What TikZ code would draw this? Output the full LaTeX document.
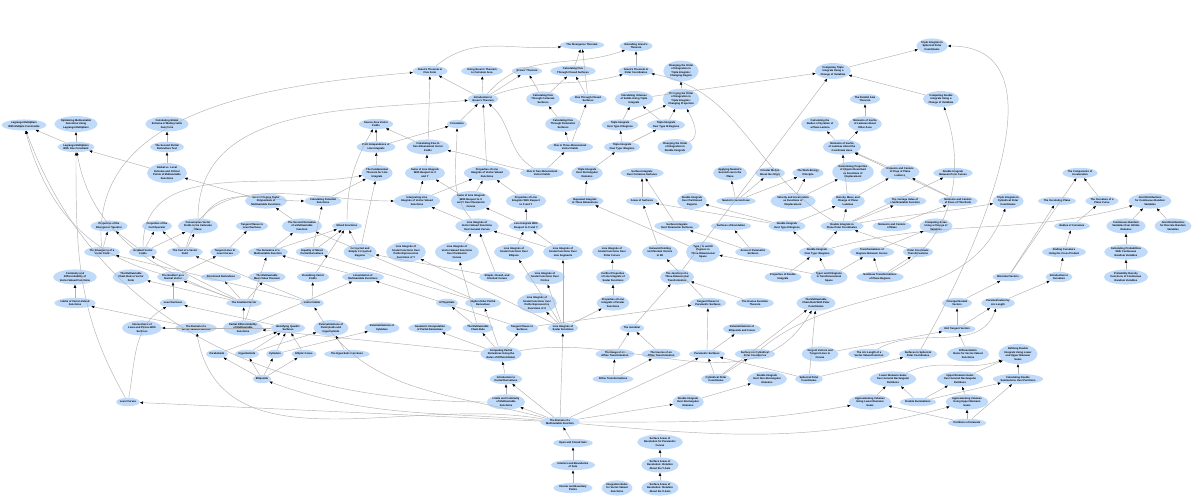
\documentclass[tikz,border=0pt]{standalone}
\usepackage{fontspec}
\setmainfont{Liberation Sans}
\usetikzlibrary{arrows.meta,shapes.geometric}
\definecolor{topicblue}{RGB}{192,218,250}
\newcommand{\topicfont}{\fontsize{2.6}{3.4}\selectfont\bfseries}

\begin{document}
\begin{tikzpicture}[x=1pt,y=-1pt,
  topic/.style={ellipse,fill=topicblue,inner xsep=0.3pt,inner ysep=1pt,minimum height=8.5pt,align=center,font=\topicfont},
  link/.style={draw=black!30,line width=0.45pt,-{Triangle[length=3pt,width=2.4pt,color=black]}}]
\useasboundingbox (0,0) rectangle (1200,502);
\node[topic] (tspherical) at (932,46) {Triple Integrals in\\Spherical Polar\\Coordinates};
\node[topic] (ctriple) at (833,71) {Computing Triple\\Integrals Using a\\Change of Variables};
\node[topic] (divthm) at (582,45) {The Divergence Theorem};
\node[topic] (extgreen) at (636,46) {Extending Green's\\Theorem};
\node[topic] (greenflux) at (430,71) {Green's Theorem in\\Flux Form};
\node[topic] (greenarea) at (482,71) {Using Green's Theorem\\to Calculate Area};
\node[topic] (stokes) at (527,71) {Stokes' Theorem};
\node[topic] (fluxclosedcalc) at (573,71) {Calculating Flux\\Through Closed Surfaces};
\node[topic] (greenpolar) at (636,71) {Green's Theorem in\\Polar Coordinates};
\node[topic] (changeregion) at (681,71) {Changing the Order\\of Integration in\\Triple Integrals:\\Changing Region};
\node[topic] (introgreen) at (483,99) {Introduction to\\Green's Theorem};
\node[topic] (fluxcart) at (543,99) {Calculating Flux\\Through Cartesian\\Surfaces};
\node[topic] (fluxclosed) at (588,99) {Flux Through Closed\\Surfaces};
\node[topic] (volumes) at (634,99) {Calculating Volumes\\of Solids Using Triple\\Integrals};
\node[topic] (changeproj) at (681,99) {Changing the Order\\of Integration in\\Triple Integrals:\\Changing Projection};
\node[topic] (cdouble) at (941,99) {Computing Double\\Integrals Using a\\Change of Variables};
\node[topic] (parallelaxis) at (865,99) {The Parallel Axis\\Theorem};
\node[topic] (fluxparam) at (563,124) {Calculating Flux\\Through Parametric\\Surfaces};
\node[topic] (tripletwo) at (620,125) {Triple Integrals\\Over Type II Regions};
\node[topic] (triplethree) at (666,125) {Triple Integrals\\Over Type III Regions};
\node[topic] (gyration) at (820,124) {Calculating the\\Radius of Gyration of\\a Plane Lamina};
\node[topic] (inertiaother) at (865,124) {Moments of Inertia\\of Laminas About\\Other Axes};
\node[topic] (sourcefree) at (376,124) {Source-Free Vector\\Fields};
\node[topic] (circulation) at (457,124) {Circulation};
\node[topic] (pathindep) at (376,147) {Path Independence of\\Line Integrals};
\node[topic] (flux2dcalc) at (428,147) {Calculating Flux in\\Two-Dimensional Vector\\Fields};
\node[topic] (flux3d) at (570,147) {Flux in Three-Dimensional\\Vector Fields};
\node[topic] (tripleone) at (622,147) {Triple Integrals\\Over Type I Regions};
\node[topic] (changedouble) at (675,147) {Changing the Order\\of Integration in\\Double Integrals};
\node[topic] (inertiaaxes) at (842,147) {Moments of Inertia\\of Laminas About the\\Coordinate Axes};
\node[topic] (lagmulti) at (24,125) {Lagrange Multipliers\\With Multiple Constraints};
\node[topic] (optimizing) at (76,124) {Optimizing Multivariable\\Functions Using\\Lagrange Multipliers};
\node[topic] (globalextrema) at (167,124) {Calculating Global\\Extrema of Multivariable\\Functions};
\node[topic] (lagone) at (76,147) {Lagrange Multipliers\\With One Constraint};
\node[topic] (secondtest) at (167,147) {The Second Partial\\Derivatives Test};
\node[topic] (globallocal) at (167,173) {Global vs. Local\\Extrema and Critical\\Points of Multivariable\\Functions};
\node[topic] (taylor) at (266,201) {Second-Degree Taylor\\Polynomials of\\Multivariable Functions};
\node[topic] (ftli) at (377,173) {The Fundamental\\Theorem for Line\\Integrals};
\node[topic] (sumsli) at (425,173) {Sums of Line Integrals\\With Respect to X\\and Y};
\node[topic] (propvv) at (487,173) {Properties of Line\\Integrals of Vector-Valued\\Functions};
\node[topic] (flux2d) at (542,173) {Flux in Two-Dimensional\\Vector Fields};
\node[topic] (triplerect) at (587,173) {Triple Integrals\\Over Rectangular\\Domains};
\node[topic] (surfcart) at (642,173) {Surface Integrals\\Over Cartesian Surfaces};
\node[topic] (newtonplane) at (730,173) {Applying Newton's\\Second Law in the\\Plane};
\node[topic] (circular) at (770,173) {Circular Motion\\About the Origin};
\node[topic] (workenergy) at (808,173) {The Work-Energy\\Principle};
\node[topic] (displacement) at (853,172) {Determining Properties\\of Objects Described\\as Functions of\\Displacement};
\node[topic] (laminas) at (900,172) {Moments and Centers\\of Mass of Plane\\Laminas};
\node[topic] (polarcurves) at (953,173) {Double Integrals\\Between Polar Curves};
\node[topic] (acceleration) at (1080,173) {The Components of\\Acceleration};
\node[topic] (potential) at (323,201) {Calculating Potential\\Functions};
\node[topic] (interpreting) at (417,201) {Interpreting Line\\Integrals of Vector-Valued\\Functions};
\node[topic] (sumsparam) at (471,201) {Sums of Line Integrals\\With Respect to X\\and Y Over Parametric\\Curves};
\node[topic] (propxy) at (526,201) {Properties of Line\\Integrals With Respect\\to X and Y};
\node[topic] (repeated) at (585,201) {Repeated Integrals\\in Three Dimensions};
\node[topic] (areassurf) at (642,201) {Areas of Surfaces};
\node[topic] (partitioned) at (692,201) {Double Integrals\\Over Partitioned\\Regions};
\node[topic] (newton) at (736,201) {Newton's Second Law};
\node[topic] (velocity) at (793,201) {Velocity and Acceleration\\as Functions of\\Displacement};
\node[topic] (density) at (848,201) {Density, Mass, and\\Change of Plane\\Laminas};
\node[topic] (average) at (905,201) {The Average Value of\\a Multivariable Function};
\node[topic] (thinrods) at (958,201) {Moments and Centers\\of Mass of Thin Rods};
\node[topic] (triplecyl) at (1008,201) {Triple Integrals in\\Cylindrical Polar\\Coordinates};
\node[topic] (osculating) at (1057,201) {The Osculating Plane};
\node[topic] (curvplane) at (1102,201) {The Curvature of a\\Plane Curve};
\node[topic] (jointcont) at (1150,201) {Joint Distributions\\for Continuous Random\\Variables};
\node[topic] (propdiv) at (109,226) {Properties of the\\Divergence Operator};
\node[topic] (propcurl) at (157,226) {Properties of the\\Curl Operator};
\node[topic] (conservative) at (198,226) {Conservative Vector\\Fields in the Cartesian\\Plane};
\node[topic] (tanplaneslevel) at (252,226) {Tangent Planes to\\Level Surfaces};
\node[topic] (secondderiv) at (302,226) {The Second Derivative\\of a Multivariable\\Function};
\node[topic] (mixed) at (347,226) {Mixed Functions};
\node[topic] (livvgeneral) at (477,226) {Line Integrals of\\Vector-Valued Functions\\Over General Curves};
\node[topic] (lixy) at (526,226) {Line Integrals With\\Respect to X and Y};
\node[topic] (surfparam) at (677,226) {Surface Integrals\\Over Parametric Surfaces};
\node[topic] (surfrev) at (731,226) {Surfaces of Revolution};
\node[topic] (doubletwo) at (787,226) {Double Integrals\\Over Type II Regions};
\node[topic] (doublepolar) at (842,226) {Double Integrals in\\Plane Polar Coordinates};
\node[topic] (centers) at (892,226) {Moments and Centers\\of Mass};
\node[topic] (careas) at (936,226) {Computing Areas\\Using a Change of\\Variables};
\node[topic] (radius) at (1072,226) {Radius of Curvature};
\node[topic] (continfinite) at (1126,226) {Continuous Random\\Variables Over Infinite\\Domains};
\node[topic] (jointdisc) at (1173,226) {Joint Distributions\\for Discrete Random\\Variables};
\node[topic] (divvf) at (102,252) {The Divergence of a\\Vector Field};
\node[topic] (gradvf) at (143,252) {Gradient Vector\\Fields};
\node[topic] (curlvf) at (185,252) {The Curl of a Vector\\Field};
\node[topic] (tanlineslevel) at (225,252) {Tangent Lines to\\Level Curves};
\node[topic] (derivmv) at (268,252) {The Derivative of a\\Multivariable Function};
\node[topic] (equalitymixed) at (312,252) {Equality of Mixed\\Partial Derivatives};
\node[topic] (connected) at (360,252) {Connected and\\Simply Connected\\Regions};
\node[topic] (liscalary) at (406,252) {Line Integrals of\\Scalar Functions Over\\Paths Expressed as\\Functions of Y};
\node[topic] (livvparam) at (457,252) {Line Integrals of\\Vector-Valued Functions\\Over Parametric\\Curves};
\node[topic] (liellipse) at (514,252) {Line Integrals of\\Scalar Functions Over\\Ellipses};
\node[topic] (lisegments) at (563,252) {Line Integrals of\\Scalar Functions Over\\Line Segments};
\node[topic] (lipolar) at (612,252) {Line Integrals of\\Scalar Functions Over\\Polar Curves};
\node[topic] (outward) at (660,252) {Outward-Pointing\\Unit Normal Vectors\\in 3D};
\node[topic] (regions3d) at (703,252) {Type I, II, and III\\Regions in\\Three-Dimensional\\Space};
\node[topic] (areasparam) at (753,252) {Areas of Parametric\\Surfaces};
\node[topic] (doubleone) at (817,252) {Double Integrals\\Over Type I Regions};
\node[topic] (transfcurves) at (872,252) {Transformations of\\Regions Between Curves};
\node[topic] (polartransf) at (918,252) {Polar Coordinate\\Transformations};
\node[topic] (crossproduct) at (1064,252) {Finding Curvature\\Using the Cross Product};
\node[topic] (probabilities) at (1126,252) {Calculating Probabilities\\With Continuous\\Random Variables};
\node[topic] (continuityvv) at (75,277) {Continuity and\\Differentiability of\\Vector-Valued Functions};
\node[topic] (chainvector) at (131,277) {The Multivariable\\Chain Rule in Vector\\Form};
\node[topic] (gradnormal) at (173,277) {The Gradient as a\\Normal Vector};
\node[topic] (directional) at (221,277) {Directional Derivatives};
\node[topic] (meanvalue) at (267,277) {The Multivariable\\Mean Value Theorem};
\node[topic] (visualizing) at (313,277) {Visualizing Vector\\Fields};
\node[topic] (linearization) at (363,277) {Linearization of\\Multivariable Functions};
\node[topic] (simpleclosed) at (497,277) {Simple, Closed, and\\Oriented Curves};
\node[topic] (licircles) at (545,277) {Line Integrals of\\Scalar Functions Over\\Circles};
\node[topic] (furtherprop) at (613,277) {Further Properties\\of Line Integrals of\\Scalar Functions};
\node[topic] (jacobian3d) at (677,277) {The Jacobian of a\\Three-Dimensional\\Transformation};
\node[topic] (propdouble) at (783,277) {Properties of Double\\Integrals};
\node[topic] (regions2d) at (829,277) {Type I and II Regions\\in Two-Dimensional\\Space};
\node[topic] (nonlinear) at (880,277) {Nonlinear Transformations\\of Plane Regions};
\node[topic] (binormal) at (1008,277) {Binormal Vectors};
\node[topic] (introcurv) at (1059,277) {Introduction to\\Curvature};
\node[topic] (pdf) at (1126,277) {Probability Density\\Functions of Continuous\\Random Variables};
\node[topic] (limitsvv) at (75,303) {Limits of Vector-Valued\\Functions};
\node[topic] (levelsurf) at (173,303) {Level Surfaces};
\node[topic] (gradvec) at (244,303) {The Gradient Vector};
\node[topic] (vectorfields) at (312,303) {Vector Fields};
\node[topic] (differentials) at (447,303) {Differentials};
\node[topic] (higherorder) at (483,303) {Higher-Order Partial\\Derivatives};
\node[topic] (liscalarx) at (537,303) {Line Integrals of\\Scalar Functions Over\\Paths Expressed as\\Functions of X};
\node[topic] (propscalar) at (613,303) {Properties of Line\\Integrals of Scalar\\Functions};
\node[topic] (tanplanesparam) at (708,303) {Tangent Planes to\\Parametric Surfaces};
\node[topic] (inversefn) at (755,303) {The Inverse Function\\Theorem};
\node[topic] (chainpolar) at (816,303) {The Multivariable\\Chain Rule With Polar\\Coordinates};
\node[topic] (principal) at (957,303) {Principal Normal\\Vectors};
\node[topic] (arclengthparam) at (998,303) {Parametrization by\\Arc Length};
\node[topic] (intersections) at (142,328) {Intersections of\\Lines and Planes With\\Surfaces};
\node[topic] (domainvv) at (196,328) {The Domain of a\\Vector-Valued Function};
\node[topic] (partialdiff) at (243,328) {Partial Differentiability\\of Multivariable\\Functions};
\node[topic] (quadric) at (288,328) {Identifying Quadric\\Surfaces};
\node[topic] (paramparab) at (331,328) {Parametrizations of\\Paraboloids and\\Hyperboloids};
\node[topic] (paramcyl) at (382,328) {Parametrizations of\\Cylinders};
\node[topic] (geominterp) at (430,328) {Geometric Interpretation\\of Partial Derivatives};
\node[topic] (chainrule) at (478,328) {The Multivariable\\Chain Rule};
\node[topic] (tanplanessurf) at (522,328) {Tangent Planes to\\Surfaces};
\node[topic] (liscalar) at (563,328) {Line Integrals of\\Scalar Functions};
\node[topic] (jacobian) at (632,328) {The Jacobian};
\node[topic] (paramellip) at (742,329) {Parametrizations of\\Ellipsoids and Cones};
\node[topic] (unittangent) at (957,329) {Unit Tangent Vectors};
\node[topic] (paraboloids) at (217,354) {Paraboloids};
\node[topic] (hyperboloids) at (247,354) {Hyperboloids};
\node[topic] (cylinders) at (275,354) {Cylinders};
\node[topic] (cones) at (304,354) {Elliptic Cones};
\node[topic] (hyperbolic) at (347,354) {The Hyperbolic Functions};
\node[topic] (computingpd) at (501,354) {Computing Partial\\Derivatives Using the\\Rules of Differentiation};
\node[topic] (imageaffine) at (615,354) {The Image of an\\Affine Transformation};
\node[topic] (inverseaffine) at (661,354) {The Inverse of an\\Affine Transformation};
\node[topic] (paramsurf) at (707,354) {Parametric Surfaces};
\node[topic] (surfcyl) at (755,354) {Surfaces in Cylindrical\\Polar Coordinates};
\node[topic] (tangentvectors) at (820,354) {Tangent Vectors and\\Tangent Lines to\\Curves};
\node[topic] (arclength) at (869,354) {The Arc Length of a\\Vector-Valued Function};
\node[topic] (surfsph) at (918,354) {Surfaces in Spherical\\Polar Coordinates};
\node[topic] (diffrules) at (968,354) {Differentiation\\Rules for Vector-Valued\\Functions};
\node[topic] (defining) at (1018,354) {Defining Double\\Integrals Using Lower\\and Upper Riemann\\Sums};
\node[topic] (ellipsoids) at (262,379) {Ellipsoids};
\node[topic] (intropd) at (506,379) {Introduction to\\Partial Derivatives};
\node[topic] (affine) at (613,379) {Affine Transformations};
\node[topic] (cylpolar) at (716,379) {Cylindrical Polar\\Coordinates};
\node[topic] (doublenonrect) at (767,379) {Double Integrals\\Over Non-Rectangular\\Domains};
\node[topic] (sphpolar) at (809,379) {Spherical Polar\\Coordinates};
\node[topic] (lowersums) at (893,379) {Lower Riemann Sums\\Over General Rectangular\\Partitions};
\node[topic] (uppersums) at (960,379) {Upper Riemann Sums\\Over General Rectangular\\Partitions};
\node[topic] (doublesumcalc) at (1018,379) {Calculating Double\\Summations Over Partitions};
\node[topic] (levelcurves) at (128,402) {Level Curves};
\node[topic] (limitscont) at (506,402) {Limits and Continuity\\of Multivariable\\Functions};
\node[topic] (doublerect) at (688,402) {Double Integrals\\Over Rectangular\\Domains};
\node[topic] (approxlower) at (870,402) {Approximating Volumes\\Using Lower Riemann\\Sums};
\node[topic] (doublesums) at (918,402) {Double Summations};
\node[topic] (approxupper) at (967,402) {Approximating Volumes\\Using Upper Riemann\\Sums};
\node[topic] (domainmv) at (560,422) {The Domain of a\\Multivariable Function};
\node[topic] (partitions) at (967,423) {Partitions of Intervals};
\node[topic] (openclosed) at (573,443) {Open and Closed Sets};
\node[topic] (surfareaparam) at (660,442) {Surface Areas of\\Revolution for Parametric\\Curves};
\node[topic] (interiors) at (573,465) {Interiors and Boundaries\\of Sets};
\node[topic] (surfareay) at (660,465) {Surface Areas of\\Revolution: Rotation\\About the Y-Axis};
\node[topic] (interiorpts) at (573,488) {Interior and Boundary\\Points};
\node[topic] (integrationrules) at (617,488) {Integration Rules\\for Vector-Valued\\Functions};
\node[topic] (surfareax) at (660,488) {Surface Areas of\\Revolution: Rotation\\About the X-Axis};
\draw[link] (lagone) -- (lagmulti);
\draw[link] (lagone) -- (optimizing);
\draw[link] (secondtest) -- (globalextrema);
\draw[link] (globallocal) -- (secondtest);
\draw[link] (globallocal) -- (lagone);
\draw[link] (taylor) -- (globallocal);
\draw[link] (secondderiv) -- (taylor);
\draw[link] (gradnormal) to[out=165,in=-75] (lagmulti);
\draw[link] (limitscont) to[out=180,in=-70] (lagmulti);
\draw[link] (gradvec) to[out=160,in=-80] (lagone);
\draw[link] (levelcurves) to[out=120,in=-90] (lagone);
\draw[link] (introgreen) -- (greenflux);
\draw[link] (introgreen) -- (greenarea);
\draw[link] (introgreen) -- (stokes);
\draw[link] (circulation) -- (introgreen);
\draw[link] (propvv) -- (introgreen);
\draw[link] (flux2dcalc) -- (greenflux);
\draw[link] (divvf) to[out=95,in=185] (greenflux);
\draw[link] (conservative) to[out=90,in=185] (introgreen);
\draw[link] (greenflux) to[out=40,in=185] (divthm);
\draw[link] (introgreen) to[out=50,in=200] (extgreen);
\draw[link] (introgreen) to[out=20,in=195] (greenpolar);
\draw[link] (fluxclosedcalc) -- (divthm);
\draw[link] (fluxclosed) -- (divthm);
\draw[link] (fluxcart) -- (stokes);
\draw[link] (fluxcart) -- (fluxclosedcalc);
\draw[link] (fluxclosed) -- (fluxclosedcalc);
\draw[link] (fluxparam) -- (fluxcart);
\draw[link] (flux3d) -- (fluxparam);
\draw[link] (flux3d) -- (fluxclosed);
\draw[link] (flux2d) -- (flux3d);
\draw[link] (flux2d) to[out=150,in=-40] (introgreen);
\draw[link] (flux2d) to[out=170,in=-10] (flux2dcalc);
\draw[link] (mixed) to[out=90,in=-120] (sourcefree);
\draw[link] (pathindep) -- (sourcefree);
\draw[link] (flux2dcalc) -- (sourcefree);
\draw[link] (pathindep) -- (circulation);
\draw[link] (livvgeneral) to[out=130,in=-90] (circulation);
\draw[link] (ftli) -- (pathindep);
\draw[link] (sumsli) -- (flux2dcalc);
\draw[link] (greenpolar) -- (extgreen);
\draw[link] (changeproj) -- (changeregion);
\draw[link] (volumes) -- (ctriple);
\draw[link] (tripleone) -- (tripletwo);
\draw[link] (tripletwo) -- (volumes);
\draw[link] (triplethree) -- (volumes);
\draw[link] (tripletwo) -- (changeproj);
\draw[link] (triplethree) -- (changeproj);
\draw[link] (tripleone) -- (triplethree);
\draw[link] (changedouble) to[out=20,in=-60] (changeproj);
\draw[link] (triplerect) -- (tripleone);
\draw[link] (repeated) -- (triplerect);
\draw[link] (regions3d) -- (repeated);
\draw[link] (doublepolar) to[out=150,in=-10] (greenpolar);
\draw[link] (jacobian3d) -- (ctriple);
\draw[link] (ctriple) -- (tspherical);
\draw[link] (cdouble) -- (ctriple);
\draw[link] (surfsph) to[out=60,in=0] (tspherical);
\draw[link] (nonlinear) to[out=25,in=-70] (cdouble);
\draw[link] (inertiaother) -- (parallelaxis);
\draw[link] (inertiaaxes) -- (gyration);
\draw[link] (inertiaaxes) -- (inertiaother);
\draw[link] (density) -- (inertiaaxes);
\draw[link] (laminas) -- (inertiaaxes);
\draw[link] (thinrods) -- (inertiaaxes);
\draw[link] (potential) -- (ftli);
\draw[link] (conservative) to[out=60,in=180] (potential);
\draw[link] (equalitymixed) -- (potential);
\draw[link] (interpreting) -- (sumsli);
\draw[link] (sumsparam) -- (sumsli);
\draw[link] (interpreting) -- (propvv);
\draw[link] (sumsparam) -- (propvv);
\draw[link] (propxy) -- (propvv);
\draw[link] (livvgeneral) -- (interpreting);
\draw[link] (lixy) -- (sumsparam);
\draw[link] (lixy) -- (propxy);
\draw[link] (livvparam) -- (livvgeneral);
\draw[link] (simpleclosed) -- (livvgeneral);
\draw[link] (lisegments) -- (livvgeneral);
\draw[link] (liellipse) -- (lixy);
\draw[link] (lisegments) -- (lixy);
\draw[link] (equalitymixed) -- (mixed);
\draw[link] (visualizing) -- (mixed);
\draw[link] (connected) -- (mixed);
\draw[link] (derivmv) -- (mixed);
\draw[link] (simpleclosed) -- (connected);
\draw[link] (liscalar) -- (liscalary);
\draw[link] (chainrule) -- (livvparam);
\draw[link] (liscalar) -- (liellipse);
\draw[link] (liscalar) -- (lisegments);
\draw[link] (liscalar) -- (licircles);
\draw[link] (tanplanessurf) -- (linearization);
\draw[link] (partialdiff) -- (linearization);
\draw[link] (vectorfields) -- (visualizing);
\draw[link] (domainmv) to[out=165,in=-60] (vectorfields);
\draw[link] (chainrule) -- (differentials);
\draw[link] (computingpd) -- (higherorder);
\draw[link] (computingpd) -- (chainrule);
\draw[link] (computingpd) -- (geominterp);
\draw[link] (computingpd) -- (tanplanessurf);
\draw[link] (computingpd) -- (partialdiff);
\draw[link] (intropd) -- (computingpd);
\draw[link] (limitscont) -- (intropd);
\draw[link] (domainmv) -- (limitscont);
\draw[link] (domainmv) -- (intropd);
\draw[link] (openclosed) -- (domainmv);
\draw[link] (interiors) -- (openclosed);
\draw[link] (interiorpts) -- (interiors);
\draw[link] (domainmv) -- (levelcurves);
\draw[link] (domainmv) to[out=175,in=-20] (ellipsoids);
\draw[link] (areassurf) -- (surfcart);
\draw[link] (surfparam) -- (surfcart);
\draw[link] (doubletwo) -- (areassurf);
\draw[link] (outward) -- (areassurf);
\draw[link] (doubletwo) -- (partitioned);
\draw[link] (newton) -- (newtonplane);
\draw[link] (newton) -- (circular);
\draw[link] (newton) -- (workenergy);
\draw[link] (velocity) -- (workenergy);
\draw[link] (velocity) -- (displacement);
\draw[link] (doublepolar) -- (density);
\draw[link] (doubletwo) -- (density);
\draw[link] (density) -- (laminas);
\draw[link] (doublepolar) -- (average);
\draw[link] (doubleone) -- (doubletwo);
\draw[link] (doubleone) -- (doublepolar);
\draw[link] (regions2d) -- (doubleone);
\draw[link] (propdouble) -- (doubleone);
\draw[link] (polartransf) -- (doublepolar);
\draw[link] (regions2d) -- (transfcurves);
\draw[link] (nonlinear) -- (transfcurves);
\draw[link] (areasparam) -- (surfrev);
\draw[link] (areasparam) -- (surfparam);
\draw[link] (regions2d) -- (regions3d);
\draw[link] (tanplanesparam) -- (outward);
\draw[link] (furtherprop) -- (lipolar);
\draw[link] (propscalar) -- (furtherprop);
\draw[link] (jacobian) -- (jacobian3d);
\draw[link] (inversefn) -- (jacobian3d);
\draw[link] (tanplanessurf) -- (tanplanesparam);
\draw[link] (paramsurf) -- (tanplanesparam);
\draw[link] (computingpd) to[out=10,in=-120] (chainpolar);
\draw[link] (cylpolar) -- (chainpolar);
\draw[link] (sphpolar) -- (chainpolar);
\draw[link] (paramsurf) -- (paramellip);
\draw[link] (affine) -- (imageaffine);
\draw[link] (affine) -- (inverseaffine);
\draw[link] (imageaffine) -- (jacobian);
\draw[link] (inverseaffine) -- (jacobian);
\draw[link] (cylpolar) -- (paramsurf);
\draw[link] (domainmv) -- (paramsurf);
\draw[link] (sphpolar) -- (paramsurf);
\draw[link] (cylpolar) -- (surfcyl);
\draw[link] (sphpolar) -- (surfsph);
\draw[link] (doublerect) -- (doublenonrect);
\draw[link] (domainmv) -- (doublerect);
\draw[link] (domainmv) to[out=0,in=190] (approxlower);
\draw[link] (domainmv) to[out=-5,in=195] (approxupper);
\draw[link] (approxlower) -- (lowersums);
\draw[link] (partitions) -- (approxlower);
\draw[link] (surfareay) -- (surfareaparam);
\draw[link] (surfareax) -- (surfareay);
\draw[link] (tangentvectors) -- (unittangent);
\draw[link] (arclength) to[out=30,in=-110] (arclengthparam);
\draw[link] (uppersums) -- (defining);
\draw[link] (lowersums) to[out=25,in=200] (defining);
\draw[link] (doublesumcalc) -- (defining);
\draw[link] (approxupper) -- (uppersums);
\draw[link] (doublesums) -- (uppersums);
\draw[link] (doublesums) -- (lowersums);
\draw[link] (doublesums) -- (doublesumcalc);
\draw[link] (partitions) -- (doublesumcalc);
\draw[link] (partitions) -- (approxupper);
\draw[link] (diffrules) -- (unittangent);
\draw[link] (binormal) -- (osculating);
\draw[link] (binormal) -- (acceleration);
\draw[link] (curvplane) -- (acceleration);
\draw[link] (radius) -- (curvplane);
\draw[link] (crossproduct) -- (radius);
\draw[link] (introcurv) -- (crossproduct);
\draw[link] (arclengthparam) -- (introcurv);
\draw[link] (continfinite) -- (jointcont);
\draw[link] (jointdisc) -- (jointcont);
\draw[link] (doubleone) to[out=15,in=195] (jointcont);
\draw[link] (probabilities) -- (continfinite);
\draw[link] (pdf) -- (probabilities);
\draw[link] (doublepolar) to[out=10,in=190] (triplecyl);
\draw[link] (surfcyl) to[out=40,in=-110] (triplecyl);
\draw[link] (centers) -- (thinrods);
\draw[link] (doublepolar) -- (polarcurves);
\draw[link] (thinrods) -- (laminas);
\draw[link] (transfcurves) -- (careas);
\draw[link] (nonlinear) -- (polartransf);
\draw[link] (unittangent) -- (principal);
\draw[link] (principal) -- (binormal);
\draw[link] (unittangent) -- (arclengthparam);
\draw[link] (ellipsoids) -- (paraboloids);
\draw[link] (ellipsoids) -- (hyperboloids);
\draw[link] (ellipsoids) -- (cylinders);
\draw[link] (ellipsoids) -- (cones);
\draw[link] (paraboloids) -- (quadric);
\draw[link] (hyperboloids) -- (quadric);
\draw[link] (cylinders) -- (quadric);
\draw[link] (cones) -- (quadric);
\draw[link] (hyperbolic) -- (paramparab);
\draw[link] (hyperboloids) -- (paramparab);
\draw[link] (cylinders) -- (paramcyl);
\draw[link] (quadric) -- (intersections);
\draw[link] (gradvec) -- (chainvector);
\draw[link] (gradvec) -- (gradnormal);
\draw[link] (gradvec) -- (directional);
\draw[link] (gradvec) -- (meanvalue);
\draw[link] (levelsurf) -- (gradnormal);
\draw[link] (limitsvv) -- (continuityvv);
\draw[link] (domainvv) -- (limitsvv);
\draw[link] (levelcurves) to[out=80,in=-150] (levelsurf);
\draw[link] (quadric) -- (levelsurf);
\draw[link] (partialdiff) -- (gradvec);
\draw[link] (divvf) -- (propdiv);
\draw[link] (gradvf) -- (propdiv);
\draw[link] (gradvf) -- (propcurl);
\draw[link] (curlvf) -- (propcurl);
\draw[link] (gradvf) -- (conservative);
\draw[link] (curlvf) -- (conservative);
\draw[link] (tanlineslevel) -- (tanplaneslevel);
\draw[link] (derivmv) -- (secondderiv);
\draw[link] (gradvec) -- (gradvf);
\draw[link] (vectorfields) -- (divvf);
\draw[link] (vectorfields) -- (curlvf);
\draw[link] (gradnormal) -- (tanlineslevel);
\draw[link] (partialdiff) -- (derivmv);
\draw[link] (linearization) -- (derivmv);
\draw[link] (higherorder) -- (equalitymixed);
\draw[link] (higherorder) -- (secondderiv);
\draw[link] (gradvf) to[out=90,in=190] (ftli);
\draw[link] (curlvf) to[out=75,in=180] (interpreting);
\draw[link] (domainmv) to[out=170,in=-80] (domainvv);
\draw[link] (liscalar) -- (liscalarx);
\draw[link] (liscalar) -- (propscalar);
\draw[link] (domainmv) -- (liscalar);
\draw[link] (connected) -- (ftli);
\end{tikzpicture}
\end{document}
